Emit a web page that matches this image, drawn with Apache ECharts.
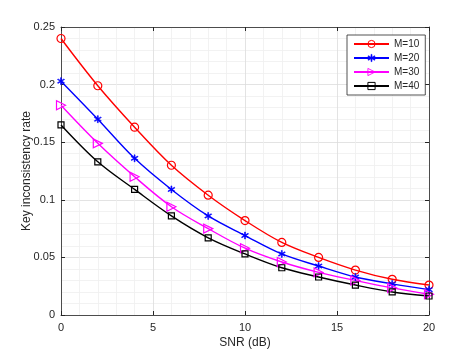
<!DOCTYPE html>
<html>
<head>
<meta charset="utf-8">
<script src="https://cdn.jsdelivr.net/npm/echarts@6/dist/echarts.min.js"></script>
<style>html,body{margin:0;padding:0;background:#fff}#c{width:474px;height:355px}</style>
</head>
<body>
<div id="c"></div>
<script>
const snr = [0, 2, 4, 6, 8, 10, 12, 14, 16, 18, 20];
const m10 = [0.240, 0.199, 0.163, 0.130, 0.104, 0.082, 0.063, 0.050, 0.039, 0.031, 0.026];
const m20 = [0.203, 0.170, 0.136, 0.109, 0.086, 0.069, 0.053, 0.0425, 0.033, 0.027, 0.022];
const m30 = [0.182, 0.149, 0.120, 0.094, 0.075, 0.058, 0.046, 0.037, 0.030, 0.0235, 0.018];
const m40 = [0.165, 0.133, 0.109, 0.086, 0.067, 0.053, 0.041, 0.033, 0.026, 0.020, 0.0165];
const seriesNames = ['M=10', 'M=20', 'M=30', 'M=40'];
const yTicks = [0, 0.05, 0.1, 0.15, 0.2, 0.25];

const FONT = 'Liberation Sans, Arial, sans-serif';
const axisColor = '#262626';
const colors = ['#ff0000', '#0000ff', '#ff00ff', '#000000'];
const asterisk = 'path://M-0.6,-5 L0.6,-5 L0.6,5 L-0.6,5 Z M-4.6,-2.2 L-4,-3.2 L4.6,2.2 L4,3.2 Z M-4.6,2.2 L-4,3.2 L4.6,-2.2 L4,-3.2 Z';

function pairs(ys) { return snr.map((x, i) => [x, ys[i]]); }

function styleFor(color, filled, bw) {
  return filled ? { color: color, borderColor: color, borderWidth: 0.6 }
                : { color: 'rgba(255,255,255,0)', borderColor: color, borderWidth: bw || 1.2 };
}

function mk(name, data, color, symbol, size, rotate, filled) {
  return {
    name: name, type: 'line', data: pairs(data), smooth: 0.35,
    symbol: symbol, symbolSize: size, symbolRotate: rotate || 0,
    showSymbol: true,
    lineStyle: { color: color, width: 1.4 },
    itemStyle: styleFor(color, filled),
    emphasis: { disabled: true },
    z: 3
  };
}

const chart = echarts.init(document.getElementById('c'), null, { renderer: 'canvas' });
chart.setOption({
  animation: false,
  backgroundColor: '#fff',
  textStyle: { fontFamily: FONT },
  grid: { left: 61, right: 45, top: 27, bottom: 40, show: false },
  legend: {
    show: true,
    orient: 'vertical',
    left: 347, top: 35,
    backgroundColor: '#fff',
    borderColor: axisColor, borderWidth: 0.8,
    padding: [4, 6, 4, 6],
    itemWidth: 35, itemHeight: 9, itemGap: 4,
    textStyle: { fontFamily: FONT, fontSize: 10, color: axisColor },
    data: [
      { name: seriesNames[0], itemStyle: styleFor(colors[0], false, 1) },
      { name: seriesNames[1], itemStyle: styleFor(colors[1], true) },
      { name: seriesNames[2], itemStyle: styleFor(colors[2], false, 0.9) },
      { name: seriesNames[3], itemStyle: styleFor(colors[3], false, 1) }
    ]
  },
  xAxis: [{
    type: 'value', min: 0, max: 20, interval: 5,
    name: 'SNR (dB)', nameLocation: 'middle', nameGap: 22, nameMoveOverlap: false,
    nameTextStyle: { fontFamily: FONT, fontSize: 12, color: axisColor },
    axisLine: { show: true, onZero: false, lineStyle: { color: axisColor, width: 0.8 } },
    axisTick: { show: true, inside: true, length: 4, lineStyle: { color: axisColor } },
    axisLabel: { fontFamily: FONT, fontSize: 11, color: axisColor, margin: 7 },
    splitLine: { show: true, lineStyle: { color: '#dcdcdc', width: 0.8 } },
    minorTick: { show: false, splitNumber: 5 },
    minorSplitLine: { show: true, lineStyle: { color: '#efefef', width: 0.8 } }
  }, {
    type: 'value', min: 0, max: 20, interval: 5, position: 'top',
    axisLine: { show: true, onZero: false, lineStyle: { color: axisColor, width: 0.8 } },
    axisTick: { show: true, inside: true, length: 4, lineStyle: { color: axisColor } },
    axisLabel: { show: false }, splitLine: { show: false }
  }],
  yAxis: [{
    type: 'value', min: 0, max: 0.25, interval: 0.05,
    name: 'Key inconsistency rate', nameLocation: 'middle', nameGap: 28, nameMoveOverlap: false,
    nameTextStyle: { fontFamily: FONT, fontSize: 12, color: axisColor },
    axisLine: { show: true, onZero: false, lineStyle: { color: axisColor, width: 0.8 } },
    axisTick: { show: true, inside: true, length: 4, lineStyle: { color: axisColor } },
    axisLabel: { fontFamily: FONT, fontSize: 11, color: axisColor, margin: 6,
      formatter: v => { const t = yTicks.find(k => Math.abs(k - v) < 1e-9); return t === undefined ? '' : String(t); } },
    splitLine: { show: true, lineStyle: { color: '#dcdcdc', width: 0.8 } },
    minorTick: { show: false, splitNumber: 5 },
    minorSplitLine: { show: true, lineStyle: { color: '#efefef', width: 0.8 } }
  }, {
    type: 'value', min: 0, max: 0.25, interval: 0.05, position: 'right',
    axisLine: { show: true, onZero: false, lineStyle: { color: axisColor, width: 0.8 } },
    axisTick: { show: true, inside: true, length: 4, lineStyle: { color: axisColor } },
    axisLabel: { show: false }, splitLine: { show: false }
  }],
  series: [
    mk(seriesNames[0], m10, colors[0], 'circle', 8, 0, false),
    mk(seriesNames[1], m20, colors[1], asterisk, 7, 0, true),
    mk(seriesNames[2], m30, colors[2], 'triangle', 9, -90, false),
    mk(seriesNames[3], m40, colors[3], 'rect', 6, 0, false)
  ]
});
</script>
</body>
</html>
